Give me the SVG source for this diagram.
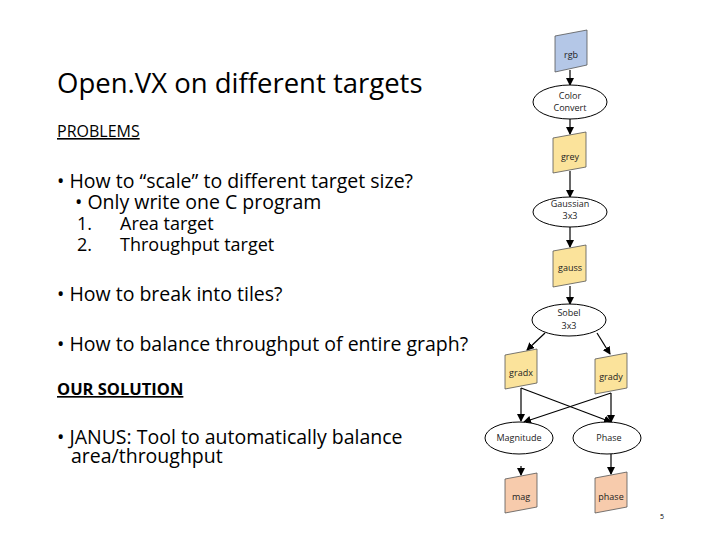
<svg xmlns="http://www.w3.org/2000/svg" width="720" height="540" viewBox="0 0 720 540">
<defs>
<marker id="ah" markerWidth="8" markerHeight="8" refX="7" refY="4" orient="auto" markerUnits="userSpaceOnUse"><path d="M0,0 L8,4 L0,8 z" fill="#000"/></marker>
<style>
.t{font-family:"Open Sans","Liberation Sans",sans-serif;fill:#000}
.n{font-family:"Open Sans","Liberation Sans",sans-serif;font-size:9px;fill:#222;text-anchor:middle}
.e{fill:#fff;stroke:#000;stroke-width:1}
.b{fill:#b4c7e7;stroke:#555;stroke-width:0.8}
.y{fill:#fbe39b;stroke:#555;stroke-width:0.8}
.o{fill:#f7cbac;stroke:#555;stroke-width:0.8}
.c{stroke:#000;stroke-width:1.2;fill:none;marker-end:url(#ah)}
</style>
</defs>
<rect width="720" height="540" fill="#fff"/>
<text class="t" x="57" y="93" font-size="27.5">Open.VX on different targets</text>
<text class="t" x="57" y="137" font-size="16" text-decoration="underline">PROBLEMS</text>
<text class="t" x="57" y="188" font-size="19.5">• How to “scale” to different target size?</text>
<text class="t" x="75" y="209" font-size="19.5">• Only write one C program</text>
<text class="t" x="77" y="230" font-size="18">1.</text><text class="t" x="120" y="230" font-size="18">Area target</text>
<text class="t" x="77" y="251" font-size="18">2.</text><text class="t" x="120" y="251" font-size="18">Throughput target</text>
<text class="t" x="57" y="301" font-size="19.5">• How to break into tiles?</text>
<text class="t" x="57" y="351" font-size="19.5">• How to balance throughput of entire graph?</text>
<text class="t" x="57" y="395" font-size="16.5" font-weight="bold" text-decoration="underline">OUR SOLUTION</text>
<text class="t" x="57" y="444" font-size="19.5">• JANUS: Tool to automatically balance</text>
<text class="t" x="71" y="463" font-size="19.5">area/throughput</text>
<g id="connectors">
<line class="c" x1="570" y1="70" x2="570" y2="85"/>
<line class="c" x1="570" y1="119" x2="570" y2="134"/>
<line class="c" x1="570" y1="171" x2="570" y2="197"/>
<line class="c" x1="570" y1="227" x2="570" y2="247"/>
<line class="c" x1="570" y1="286" x2="570" y2="304"/>
<line class="c" x1="545" y1="333" x2="527" y2="350"/>
<line class="c" x1="597" y1="333" x2="610" y2="354"/>
<line class="c" x1="521" y1="388" x2="521" y2="421"/>
<line class="c" x1="521" y1="388" x2="611" y2="422"/>
<line class="c" x1="611" y1="393" x2="524" y2="422"/>
<line class="c" x1="611" y1="393" x2="611" y2="422"/>
<line class="c" x1="521" y1="466" x2="521" y2="475"/>
<line class="c" x1="611" y1="454" x2="611" y2="474"/>
</g>
<g id="rgb"><polygon class="b" points="555,36 587,30 587,65 555,72"/><text class="n" x="571" y="58">rgb</text></g>
<g id="colorconvert"><ellipse class="e" cx="570" cy="102" rx="37" ry="17"/><text class="n" x="570" y="99">Color</text><text class="n" x="570" y="111">Convert</text></g>
<g id="grey"><polygon class="y" points="553,138 586,132 586,167 553,173"/><text class="n" x="570" y="160">grey</text></g>
<g id="gaussian"><ellipse class="e" cx="570" cy="212" rx="37" ry="15"/><text class="n" x="570" y="207">Gaussian</text><text class="n" x="570" y="219">3x3</text></g>
<g id="gauss"><polygon class="y" points="553,251 586,245 586,281 553,287"/><text class="n" x="570" y="271">gauss</text></g>
<g id="sobel"><ellipse class="e" cx="569" cy="320" rx="37" ry="16"/><text class="n" x="569" y="316">Sobel</text><text class="n" x="569" y="329">3x3</text></g>
<g id="gradx"><polygon class="y" points="505,355 537,349 537,383 505,389"/><text class="n" x="521" y="376">gradx</text></g>
<g id="grady"><polygon class="y" points="595,359 627,353 627,388 595,394"/><text class="n" x="611" y="380">grady</text></g>
<g id="magnitude"><ellipse class="e" cx="519" cy="438" rx="34" ry="16"/><text class="n" x="519" y="441">Magnitude</text></g>
<g id="phaseop"><ellipse class="e" cx="607" cy="438" rx="34" ry="16"/><text class="n" x="609" y="441">Phase</text></g>
<g id="mag"><polygon class="o" points="505,479 537,473 537,507 505,513"/><text class="n" x="521" y="500">mag</text></g>
<g id="phase"><polygon class="o" points="595,478 627,472 627,507 595,513"/><text class="n" x="611" y="500">phase</text></g>
<text class="t" x="660" y="519" font-size="7" fill="#555">5</text>
</svg>
